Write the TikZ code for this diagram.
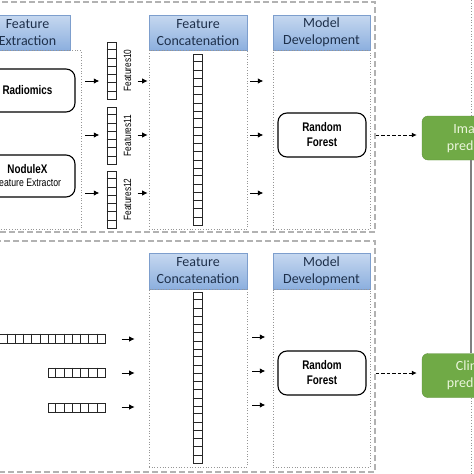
\documentclass[tikz,border=0pt]{standalone}
\usepackage{fontspec}
\setmainfont{Carlito}
\newfontfamily\condfont[FakeStretch=0.79]{Liberation Sans}
\usepackage{tikz}
\usetikzlibrary{arrows.meta,positioning,calc}
\definecolor{headtop}{RGB}{198,216,240}
\definecolor{headbot}{RGB}{140,175,222}
\definecolor{headline}{RGB}{125,158,205}
\definecolor{headtext}{RGB}{30,48,75}
\definecolor{predgreen}{RGB}{112,170,70}
\definecolor{predline}{RGB}{95,145,60}
\definecolor{predtext}{RGB}{235,246,220}
\definecolor{framegray}{RGB}{178,178,178}
\definecolor{dotgray}{RGB}{150,150,150}
\newcommand{\vcells}[1]{\foreach \k in {1,...,6} \draw[cellline] ($(#1.north west)!\k/7!(#1.south west)$) -- ($(#1.north east)!\k/7!(#1.south east)$);}
\newcommand{\hcells}[1]{\foreach \k in {1,...,6} \draw[cellline] ($(#1.north west)!\k/7!(#1.north east)$) -- ($(#1.south west)!\k/7!(#1.south east)$);}

\begin{document}
\begin{tikzpicture}[
  x=1pt, y=-1pt,
  hdr/.style={draw=headline, top color=headtop, bottom color=headbot, align=center, text=headtext, font=\fontsize{14}{17}\selectfont, minimum width=98pt, minimum height=35pt, inner sep=1pt},
  stage/.style={draw=dotgray, dotted, line width=0.7pt, minimum width=98pt, minimum height=179pt},
  outerframe/.style={draw=framegray, dash pattern=on 6pt off 3pt, line width=1.3pt},
  toolbox/.style={draw, rounded corners=9pt, line width=1.1pt, align=center, font=\condfont\bfseries\fontsize{12.5}{15}\selectfont},
  pred/.style={draw=predline, fill=predgreen, rounded corners=6pt, align=center, text=predtext, font=\fontsize{14}{17}\selectfont, minimum width=108pt, minimum height=44pt},
  vvec/.style={draw=black!85, line width=0.8pt, inner sep=0pt, minimum width=9pt, minimum height=57pt},
  hvec/.style={draw=black!85, line width=0.8pt, inner sep=0pt, minimum width=57pt, minimum height=9pt},
  cellline/.style={draw=black!85, line width=0.8pt},
  flabel/.style={rotate=90, font=\condfont\fontsize{10.5}{12}\selectfont, inner sep=0pt},
  arr/.style={-{Latex[length=5.5pt,width=5.5pt]}, line width=1pt},
  darr/.style={-{Latex[length=5pt,width=5pt]}, line width=1pt, dash pattern=on 3.5pt off 2pt},
]
\useasboundingbox (0,0) rectangle (474,474);
\clip (0,0) rectangle (474,474);

% Imaging branch
\draw[outerframe] (-40,2) rectangle (375,232);
\node[hdr, minimum width=85pt] (exthdr) at (27.5,32.5) {Feature\\Extraction};
\node[stage, minimum width=107pt] (extbox) at (27.5,139.5) {};
\node[toolbox, minimum width=95pt, minimum height=43pt] (rad) at (27.5,90.5) {Radiomics};
\node[toolbox, minimum width=95pt, minimum height=42pt] (nodx) at (27.5,176) {NoduleX\\[-2pt]{\mdseries\fontsize{11}{13}\selectfont Feature Extractor}};

\node[vvec] (f10) at (111.5,70.5) {};
\node[vvec] (f11) at (111.5,135.5) {};
\node[vvec] (f12) at (111.5,199.5) {};
\foreach \v in {f10,f11,f12} {\vcells{\v}}
\node[flabel] (l10) at ([xshift=16pt]f10.center) {Features10};
\node[flabel] (l11) at ([xshift=16pt]f11.center) {Features11};
\node[flabel] (l12) at ([xshift=16pt]f12.center) {Features12};

\node[hdr] (cathdr) at (198,32.5) {Feature\\Concatenation};
\node[stage] (catbox) at (198,139.5) {};
\node[vvec] (c1) at (197.5,82.5) {};
\node[vvec] (c2) at (197.5,139.5) {};
\node[vvec] (c3) at (197.5,196.5) {};
\foreach \v in {c1,c2,c3} {\vcells{\v}}

\node[hdr, minimum width=97pt] (mdlhdr) at (321.5,32.5) {Model\\Development};
\node[stage, minimum width=97pt] (mdlbox) at (321.5,139.5) {};
\node[toolbox, minimum width=88pt, minimum height=44pt] (rf1) at (322,135) {Random\\Forest};

\foreach \y in {81,135,193} {
  \draw[arr] ([xshift=4pt]extbox.east |- 0,\y) -- ++(14,0);
  \draw[arr] ([xshift=-11pt]catbox.west |- 0,\y) -- ++(10,0);
  \draw[arr] ([xshift=3pt]catbox.east |- 0,\y) -- ++(13,0);
}

\node[pred] (img) at (476,138) {Imaging\\prediction};
\draw[darr, shorten <=9pt, shorten >=5pt] (rf1.east) -- (rf1.east -| img.west);

% Clinical branch
\draw[outerframe] (-40,241) rectangle (375,472);
\node[hvec] (ca0) at (19.5,338.5) {};
\node[hvec] (ca) at (76.5,338.5) {};
\node[hvec] (cb) at (76.5,372.5) {};
\node[hvec] (cc) at (76.5,408) {};
\foreach \v in {ca0,ca,cb,cc} {\hcells{\v}}

\node[hdr, minimum height=36pt] (cathdr2) at (198,271) {Feature\\Concatenation};
\node[stage, minimum height=178pt] (catbox2) at (198,378) {};
\node[vvec] (d1) at (197.5,320.5) {};
\node[vvec] (d2) at (197.5,377.5) {};
\node[vvec] (d3) at (197.5,434.5) {};
\foreach \v in {d1,d2,d3} {\vcells{\v}}

\node[hdr, minimum width=97pt, minimum height=36pt] (mdlhdr2) at (321.5,271) {Model\\Development};
\node[stage, minimum width=97pt, minimum height=178pt] (mdlbox2) at (321.5,378) {};
\node[toolbox, minimum width=88pt, minimum height=44pt] (rf2) at (322,373) {Random\\Forest};

\foreach \y in {339,373,407} {
  \draw[arr] ([xshift=-27pt]catbox2.west |- 0,\y) -- ++(13,0);
}
\foreach \y in {337,371,405} {
  \draw[arr] ([xshift=5pt]catbox2.east |- 0,\y) -- ++(13,0);
}

\node[pred] (clin) at (476,375.5) {Clinical\\prediction};
\draw[darr, shorten <=9pt, shorten >=5pt] (rf2.east) -- (rf2.east -| clin.west);

% right column
\coordinate (rtop) at (471,0);
\coordinate (rbot) at (471,474);
\draw[dotgray, dotted, line width=0.8pt] (rtop) -- (rtop |- img.north);
\draw[gray, line width=1.2pt] (img.south -| rtop) -- (clin.north -| rtop);
\draw[dotgray, dotted, line width=0.8pt] (clin.south -| rtop) -- (rbot);
\end{tikzpicture}
\end{document}
